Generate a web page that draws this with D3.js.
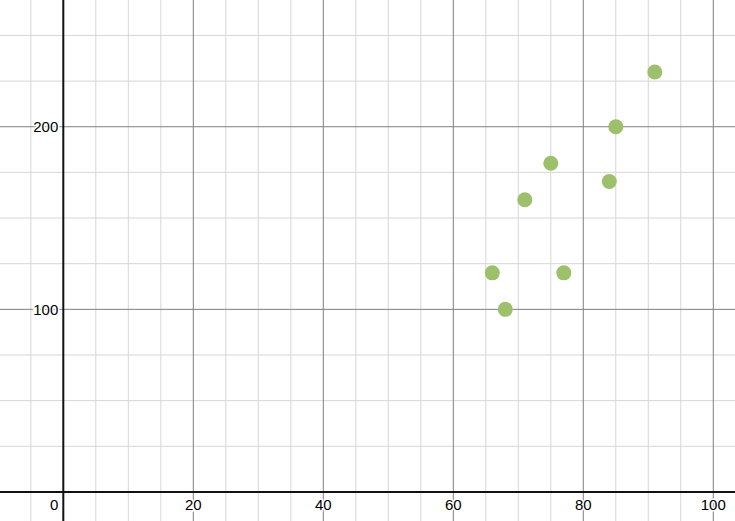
<!DOCTYPE html>
<html>
<head>
<meta charset="utf-8">
<script src="https://cdn.jsdelivr.net/npm/d3@7"></script>
<style>
  body { margin: 0; background: #fff; }
  svg { display: block; }
</style>
</head>
<body>
<script>
var xValues = [66, 68, 71, 75, 77, 84, 85, 91];
var yValues = [120, 100, 160, 180, 120, 170, 200, 230];
var xTickLabels = [0, 20, 40, 60, 80, 100];
var yTickLabels = [100, 200];

function init() {
    var w = 735;
    var h = 521;

    // scales: 6.5 px per x unit, ~1.826 px per y unit
    var x = d3.scaleLinear().domain([-9.74, 103.34]).range([0, w]);
    var y = d3.scaleLinear().domain([-15.9, 269.4]).range([h, 0]);

    var svg = d3.select("body").append("svg")
        .attr("width", w)
        .attr("height", h);

    // minor grid
    svg.append("g").selectAll("line")
        .data(d3.range(-5, 105, 5).filter(function (d) { return d % 20 !== 0; }))
        .enter().append("line")
        .attr("x1", function (d) { return x(d); })
        .attr("x2", function (d) { return x(d); })
        .attr("y1", 0).attr("y2", h)
        .attr("stroke", "#d6d6d6").attr("stroke-width", 1);

    svg.append("g").selectAll("line")
        .data(d3.range(-25, 275, 25).filter(function (d) { return d % 100 !== 0; }))
        .enter().append("line")
        .attr("y1", function (d) { return y(d); })
        .attr("y2", function (d) { return y(d); })
        .attr("x1", 0).attr("x2", w)
        .attr("stroke", "#d6d6d6").attr("stroke-width", 1);

    // major grid
    svg.append("g").selectAll("line")
        .data(xTickLabels.filter(function (d) { return d !== 0; }))
        .enter().append("line")
        .attr("x1", function (d) { return x(d); })
        .attr("x2", function (d) { return x(d); })
        .attr("y1", 0).attr("y2", h)
        .attr("stroke", "#7f7f7f").attr("stroke-width", 1);

    svg.append("g").selectAll("line")
        .data(yTickLabels)
        .enter().append("line")
        .attr("y1", function (d) { return y(d); })
        .attr("y2", function (d) { return y(d); })
        .attr("x1", 0).attr("x2", w)
        .attr("stroke", "#7f7f7f").attr("stroke-width", 1);

    // axes
    svg.append("line")
        .attr("x1", x(0)).attr("x2", x(0))
        .attr("y1", 0).attr("y2", h)
        .attr("stroke", "#111").attr("stroke-width", 2);
    svg.append("line")
        .attr("x1", 0).attr("x2", w)
        .attr("y1", y(0)).attr("y2", y(0))
        .attr("stroke", "#111").attr("stroke-width", 2);

    // tick labels with white halo
    function label(sel) {
        sel.attr("font-family", "Liberation Sans, Arial, sans-serif")
            .attr("font-size", 15)
            .attr("fill", "#000")
            .attr("stroke", "#fff")
            .attr("stroke-width", 3)
            .attr("paint-order", "stroke")
            .attr("dominant-baseline", "central");
    }

    svg.append("g").selectAll("text")
        .data(xTickLabels)
        .enter().append("text")
        .attr("x", function (d) { return d === 0 ? x(0) - 5 : x(d); })
        .attr("y", y(0) + 13)
        .attr("text-anchor", function (d) { return d === 0 ? "end" : "middle"; })
        .text(function (d) { return d; })
        .call(label);

    svg.append("g").selectAll("text")
        .data(yTickLabels)
        .enter().append("text")
        .attr("x", x(0) - 5)
        .attr("y", function (d) { return y(d); })
        .attr("text-anchor", "end")
        .text(function (d) { return d; })
        .call(label);

    // points
    svg.append("g").selectAll("circle")
        .data(xValues)
        .enter().append("circle")
        .attr("cx", function (d) { return x(d); })
        .attr("cy", function (d, i) { return y(yValues[i]); })
        .attr("r", 7.5)
        .attr("fill", "#9cc06c");
}
window.onload = init;
</script>
</body>
</html>
